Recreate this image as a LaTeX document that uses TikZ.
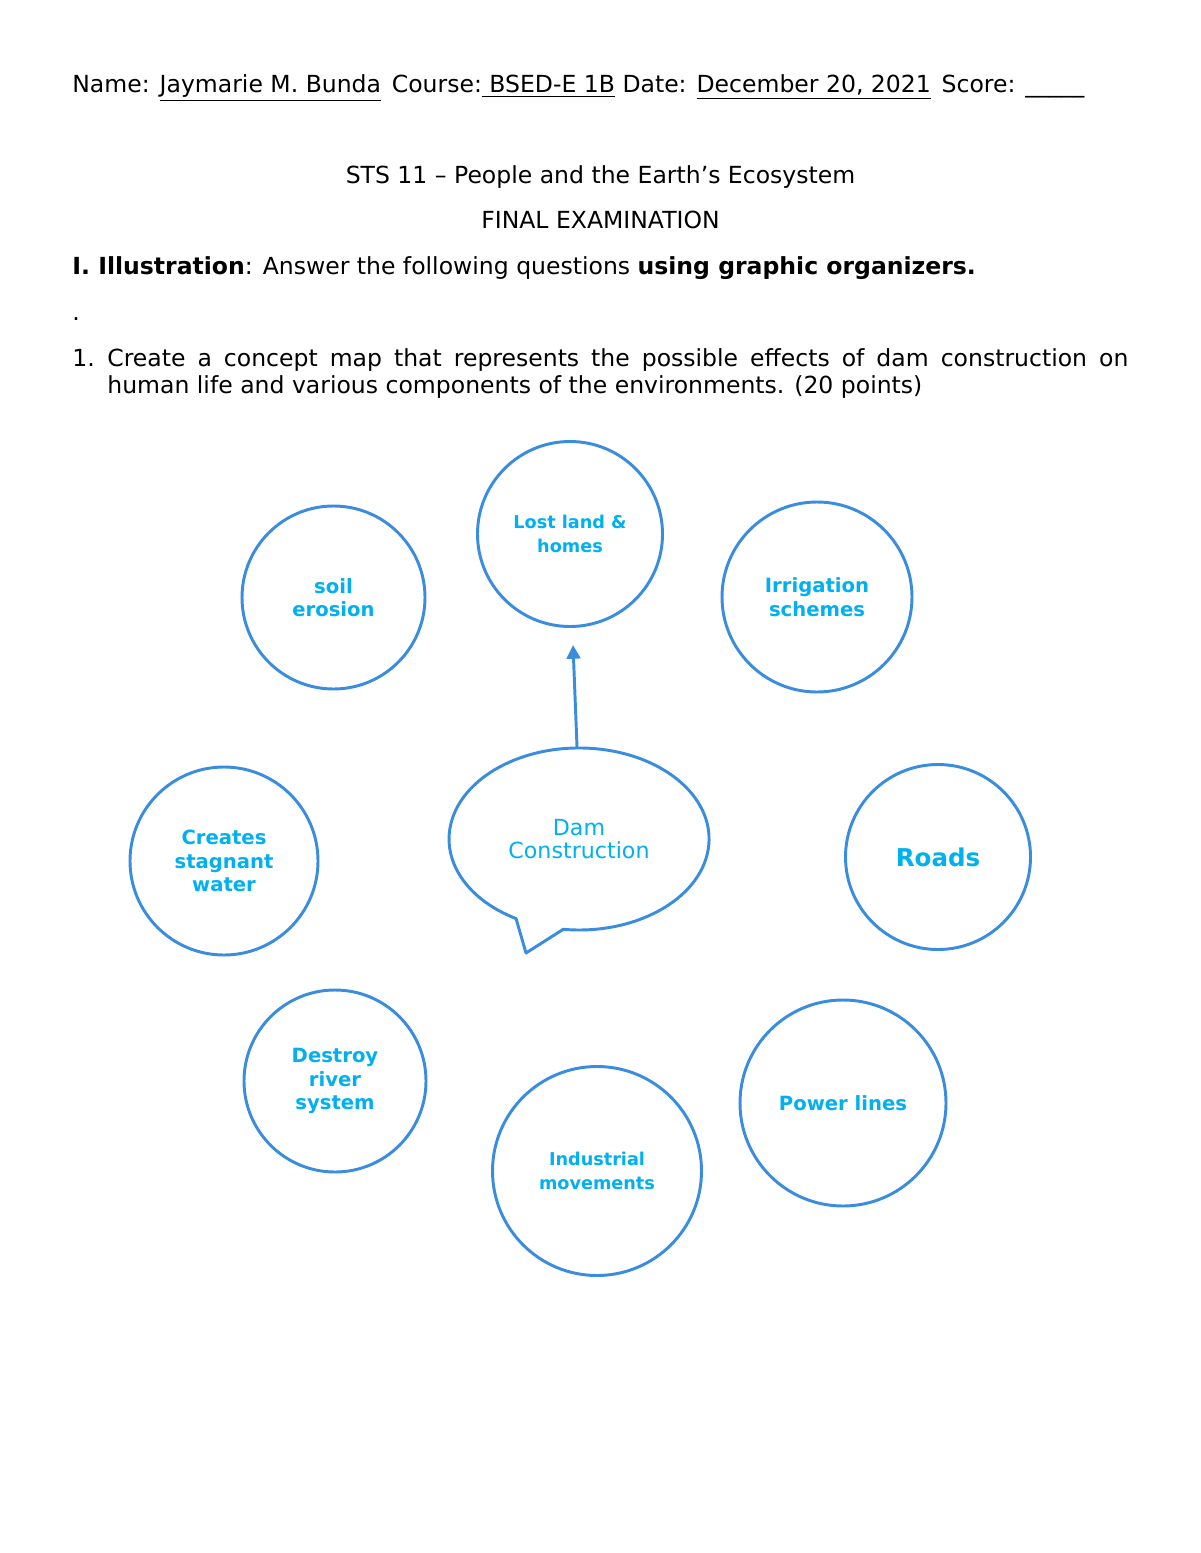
\documentclass[tikz,border=0pt]{standalone}
\usepackage{fontspec}
\setmainfont{DejaVu Sans}
\usetikzlibrary{arrows.meta,shapes.geometric}
\definecolor{ring}{HTML}{3A8DDE}
\definecolor{lbl}{HTML}{00B0F0}
\begin{document}
\begin{tikzpicture}[x=0.51pt,y=-0.51pt,
  ringnode/.style={circle,draw=ring,line width=1.5pt,minimum size={#1*0.51pt},inner sep=0pt,
    text=lbl,font=\bfseries\fontsize{10}{12}\selectfont,align=center},
  smalltxt/.style={font=\bfseries\fontsize{9}{12.2}\selectfont},
  ringline/.style={draw=ring,line width=1.5pt,line join=round},
  hdrtext/.style={inner sep=0pt,font=\fontsize{12}{14.4}\selectfont}]
\fill[white] (0,0) rectangle (1200,1553);
\useasboundingbox (0,0) rectangle (1200,1553);
% header
\node[hdrtext,anchor=base west] (name) at (72,93)
  {Name: \underline{Jaymarie M. Bunda}\hspace{5.5pt}Course:\underline{ BSED-E 1B} Date: \underline{December 20, 2021}\hspace{5.5pt}Score: \_\_\_\_\_};
\node[hdrtext,anchor=base] (title) at (600.5,184) {STS 11 – People and the Earth’s Ecosystem};
\node[hdrtext,anchor=base] (exam) at (600.5,229) {FINAL EXAMINATION};
\node[hdrtext,anchor=base west] (instr) at (72,274)
  {\textbf{I. Illustration}: Answer the following questions \textbf{using graphic organizers.}};
\node[hdrtext,anchor=base west] (dot) at (72,320) {.};
\node[hdrtext,anchor=base west] (num) at (72,366) {1.};
\node[hdrtext,anchor=base west] (q1) at (107,366)
  {\hbox to 520.7pt{Create a concept map that represents the possible effects of dam construction on}};
\node[hdrtext,anchor=base west] (q2) at (107,393)
  {human life and various components of the environments. (20 points)};
% circles
\node[ringnode=183] (soil) at (333.5,597.5) {soil\\erosion};
\node[ringnode=185,smalltxt] (lost) at (570,534) {Lost land \&\\homes};
\node[ringnode=190] (irr) at (817,597) {Irrigation\\schemes};
\node[ringnode=188] (stag) at (224,861) {Creates\\stagnant\\water};
\node[ringnode=185,font=\bfseries\fontsize{12.5}{15}\selectfont] (roads) at (938,857) {Roads};
\node[ringnode=182] (river) at (335,1081) {Destroy\\river\\system};
\node[ringnode=209,smalltxt] (ind) at (597,1171) {Industrial\\movements};
\node[ringnode=206] (power) at (843,1103) {Power lines};
% central bubble
\node[ellipse,minimum width={260*0.51pt},minimum height={182*0.51pt},inner sep=0pt,
  text=lbl,font=\fontsize{11.3}{11.8}\selectfont,align=center] (dam) at (579,839) {Dam\\Construction};
\draw[ringline] (563.2,929.3) arc[start angle=97,end angle=-241,x radius=130,y radius=91]
  -- (526,953) -- cycle;
\coordinate (tip) at (573,645);
\draw[ringline,-{Triangle[length=7pt,width=7pt]}] ([xshift=-1pt]dam.north) -- (tip);
\end{tikzpicture}
\end{document}
